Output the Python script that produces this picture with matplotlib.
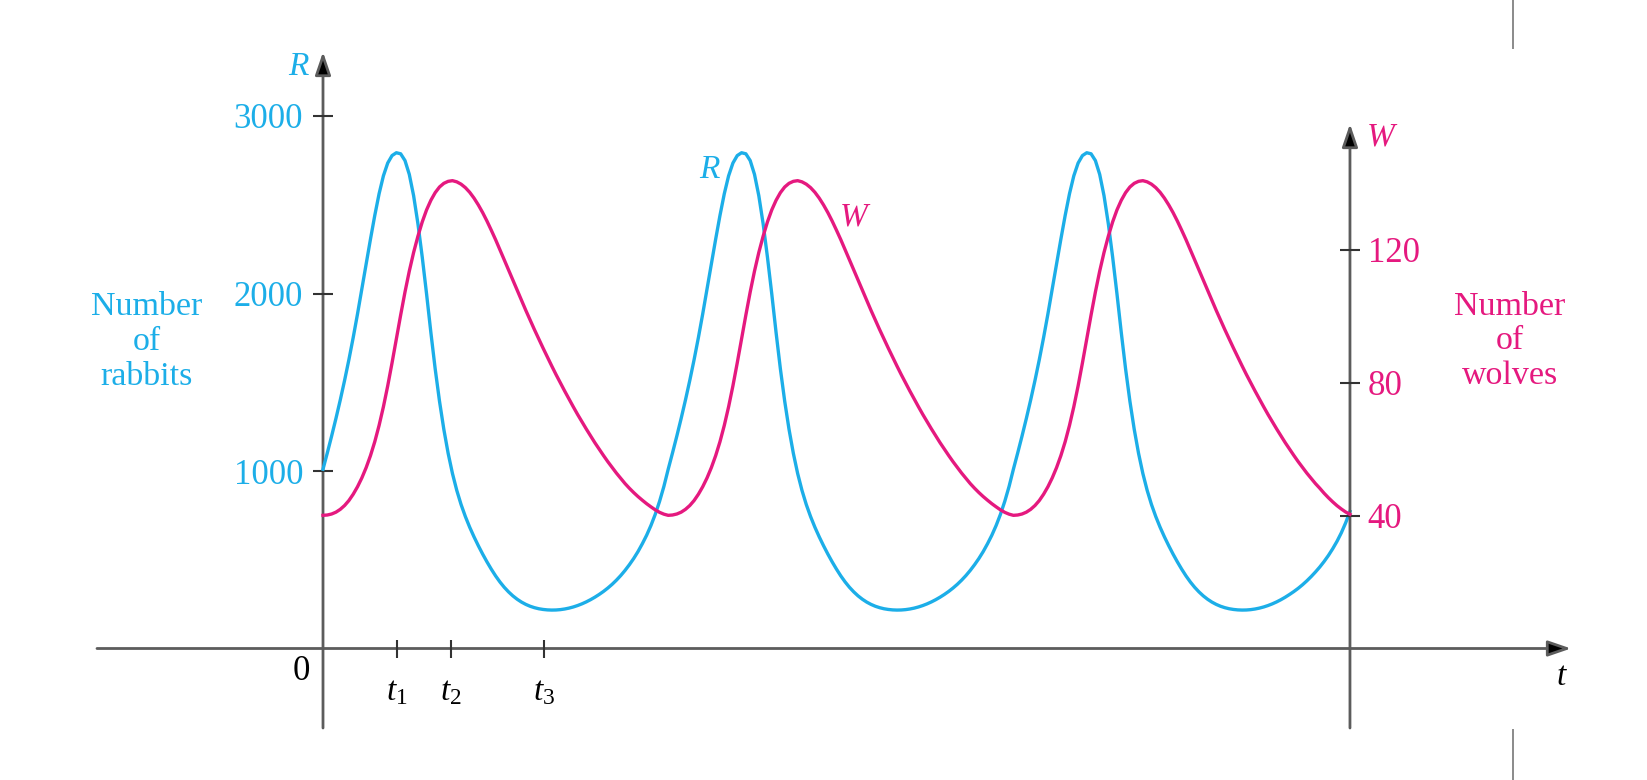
import numpy as np
import matplotlib
matplotlib.use("Agg")
import matplotlib.pyplot as plt
from matplotlib.lines import Line2D

# ---------------- data ----------------
t_step = 0.125  # sampling step of the time grid (time 0 .. 29.75)

rabbits_cycle1 = [1010, 1102, 1197, 1296, 1400, 1510, 1627, 1752,
                  1885, 2024, 2166, 2306, 2440, 2562, 2663, 2735,
                  2777, 2793, 2787, 2749, 2671, 2551, 2393, 2205,
                  1998, 1780, 1575, 1393, 1235, 1100, 986, 891,
                  811, 743, 683, 629, 579, 532, 488, 447,
                  409, 375, 345, 319, 296.5, 277.5, 261.5, 248.5,
                  238, 230, 224, 220, 217.5, 216.5, 217, 219,
                  222.5, 227.5, 234, 242, 251.5, 262.5, 275, 289,
                  304.5, 321.5, 340.5, 361.5, 385, 411, 440, 472,
                  507, 546, 590, 638, 693, 756, 829, 913]
rabbits_cycle2 = [1010, 1102, 1197, 1296, 1400, 1510, 1627, 1752,
                  1885, 2024, 2166, 2306, 2440, 2562, 2663, 2735,
                  2777, 2793, 2787, 2749, 2671, 2551, 2393, 2205,
                  1998, 1780, 1575, 1393, 1235, 1100, 986, 891,
                  811, 743, 683, 629, 579, 532, 488, 447,
                  409, 375, 345, 319, 296.5, 277.5, 261.5, 248.5,
                  238, 230, 224, 220, 217.5, 216.5, 217, 219,
                  222.5, 227.5, 234, 242, 251.5, 262.5, 275, 289,
                  304.5, 321.5, 340.5, 361.5, 385, 411, 440, 472,
                  507, 546, 590, 638, 693, 756, 829, 913]
rabbits_cycle3 = [1010, 1102, 1197, 1296, 1400, 1510, 1627, 1752,
                  1885, 2024, 2166, 2306, 2440, 2562, 2663, 2735,
                  2777, 2793, 2787, 2749, 2671, 2551, 2393, 2205,
                  1998, 1780, 1575, 1393, 1235, 1100, 986, 891,
                  811, 743, 683, 629, 579, 532, 488, 447,
                  409, 375, 345, 319, 296.5, 277.5, 261.5, 248.5,
                  238, 230, 224, 220, 217.5, 216.5, 217, 219,
                  222.5, 227.5, 234, 242, 251.5, 262.5, 275, 289,
                  304.5, 321, 339, 359, 381, 405, 431, 459,
                  490, 524, 562, 604, 652, 708, 772]

wolves_cycle1 = [40.05, 40.15, 40.45, 41.0, 41.85, 43.0, 44.5, 46.4,
                 48.65, 51.3, 54.4, 58.0, 62.2, 67.1, 72.7, 79.0,
                 85.9, 93.1, 100.3, 107.2, 113.5, 119.1, 124.0, 128.3,
                 131.9, 134.8, 137.1, 138.8, 139.9, 140.5, 140.7, 140.35,
                 139.65, 138.6, 137.2, 135.45, 133.4, 131.1, 128.55, 125.8,
                 122.95, 119.95, 116.9, 113.85, 110.8, 107.75, 104.7, 101.7,
                 98.8, 95.9, 93.1, 90.35, 87.65, 85.0, 82.4, 79.9,
                 77.45, 75.05, 72.7, 70.4, 68.2, 66.05, 63.95, 61.9,
                 59.95, 58.05, 56.2, 54.45, 52.75, 51.15, 49.6, 48.2,
                 46.9, 45.7, 44.6, 43.55, 42.6, 41.7, 40.95, 40.4]
wolves_cycle2 = [40.05, 40.15, 40.45, 41.0, 41.85, 43.0, 44.5, 46.4,
                 48.65, 51.3, 54.4, 58.0, 62.2, 67.1, 72.7, 79.0,
                 85.9, 93.1, 100.3, 107.2, 113.5, 119.1, 124.0, 128.3,
                 131.9, 134.8, 137.1, 138.8, 139.9, 140.5, 140.7, 140.35,
                 139.65, 138.6, 137.2, 135.45, 133.4, 131.1, 128.55, 125.8,
                 122.95, 119.95, 116.9, 113.85, 110.8, 107.75, 104.7, 101.7,
                 98.8, 95.9, 93.1, 90.35, 87.65, 85.0, 82.4, 79.9,
                 77.45, 75.05, 72.7, 70.4, 68.2, 66.05, 63.95, 61.9,
                 59.95, 58.05, 56.2, 54.45, 52.75, 51.15, 49.6, 48.2,
                 46.9, 45.7, 44.6, 43.55, 42.6, 41.7, 40.95, 40.4]
wolves_cycle3 = [40.05, 40.15, 40.45, 41.0, 41.85, 43.0, 44.5, 46.4,
                 48.65, 51.3, 54.4, 58.0, 62.2, 67.1, 72.7, 79.0,
                 85.9, 93.1, 100.3, 107.2, 113.5, 119.1, 124.0, 128.3,
                 131.9, 134.8, 137.1, 138.8, 139.9, 140.5, 140.7, 140.35,
                 139.65, 138.6, 137.2, 135.45, 133.4, 131.1, 128.55, 125.8,
                 122.95, 119.95, 116.9, 113.85, 110.8, 107.75, 104.7, 101.7,
                 98.8, 95.9, 93.1, 90.35, 87.65, 85.0, 82.4, 79.9,
                 77.45, 75.05, 72.7, 70.4, 68.2, 66.05, 63.95, 61.9,
                 59.95, 58.05, 56.2, 54.45, 52.75, 51.15, 49.6, 48.2,
                 46.7, 45.35, 44.1, 42.95, 41.95, 41.05, 40.35]

rabbits = rabbits_cycle1 + rabbits_cycle2 + rabbits_cycle3
wolves = wolves_cycle1 + wolves_cycle2 + wolves_cycle3
time = np.arange(len(rabbits)) * t_step

rabbit_ticks = [1000, 2000, 3000]
rabbit_tick_labels = ["1000", "2000", "3000"]
wolf_ticks = [40, 80, 120]
wolf_tick_labels = ["40", "80", "120"]
time_marks = [2.15, 3.7, 6.4]
time_mark_labels = [r"$t_1$", r"$t_2$", r"$t_3$"]
t_end = 29.75

# ---------------- style ----------------
BLUE = "#1CAEE8"
MAGENTA = "#E5197F"
AXIS_GRAY = "#5c5c5c"
TICK_COL = "#333333"

plt.rcParams["font.family"] = ["Liberation Serif", "DejaVu Serif"]
plt.rcParams["mathtext.fontset"] = "custom"
plt.rcParams["mathtext.rm"] = "Liberation Serif"
plt.rcParams["mathtext.it"] = "Liberation Serif:italic"

W_PX, H_PX = 1647, 780
fig = plt.figure(figsize=(W_PX / 100, H_PX / 100), dpi=100, facecolor="white")

# pixel layout
x0_px = 323.0          # t = 0
px_per_t = 34.52
y0_px = 648.5          # R = 0 and W = 0 (from top)
px_per_R = 0.1775
px_per_W = 3.325

ax = fig.add_axes([0, 0, 1, 1])
ax.set_xlim(-x0_px / px_per_t, (W_PX - x0_px) / px_per_t)
ax.set_ylim((y0_px - H_PX) / px_per_R, y0_px / px_per_R)
ax2 = ax.twinx()
ax2.set_ylim((y0_px - H_PX) / px_per_W, y0_px / px_per_W)
for a in (ax, ax2):
    a.patch.set_visible(False)
    for s in a.spines.values():
        s.set_visible(False)

def t_of(px):
    return (px - x0_px) / px_per_t

def R_of(py):
    return (y0_px - py) / px_per_R

def W_of(py):
    return (y0_px - py) / px_per_W

# axis lines with arrows
arrow_kw = dict(arrowstyle="-|>,head_length=0.7,head_width=0.24", mutation_scale=20,
                ec=AXIS_GRAY, fc="black", lw=2.0, shrinkA=0, shrinkB=0)
ax.annotate("", xy=(0, R_of(52)), xytext=(0, R_of(728)), arrowprops=arrow_kw, zorder=1)
ax.annotate("", xy=(t_of(1571), 0), xytext=(t_of(97), 0), arrowprops=arrow_kw, zorder=1)
ax2.annotate("", xy=(t_end, W_of(124)), xytext=(t_end, W_of(728)), arrowprops=arrow_kw, zorder=1)

# curves
ax.plot(time, rabbits, color=BLUE, lw=2.4, zorder=3, solid_joinstyle="round")
ax2.plot(time, wolves, color=MAGENTA, lw=2.4, zorder=3, solid_joinstyle="round")

# ticks
ax.spines["left"].set_position(("data", 0))
ax.spines["bottom"].set_position(("data", 0))
ax2.spines["right"].set_position(("data", t_end))

ax.set_yticks(rabbit_ticks, rabbit_tick_labels)
ax.tick_params(axis="y", which="both", direction="inout", length=13.7, width=1.5,
               color=TICK_COL, labelcolor=BLUE, labelsize=25, pad=7.5,
               left=True, right=False, labelleft=True, labelright=False)
ax.set_xticks(time_marks, time_mark_labels)
ax.tick_params(axis="x", which="both", direction="inout", length=13, width=1.5,
               color=TICK_COL, labelcolor="black", labelsize=24, pad=14,
               bottom=True, top=False)
ax2.set_yticks(wolf_ticks, wolf_tick_labels)
ax2.tick_params(axis="y", which="both", direction="inout", length=13.7, width=1.5,
                color=TICK_COL, labelcolor=MAGENTA, labelsize=25, pad=6,
                right=True, left=False, labelright=True, labelleft=False)

# origin label
ax.annotate("0", xy=(0, 0), xytext=(301 - x0_px, -(672 - y0_px)),
            textcoords="offset pixels", ha="center", va="center",
            fontsize=25, color="black")

# text labels (figure pixel positions, baseline aligned)
def ftext(xp, yp, s, **kw):
    fig.text(xp / W_PX, 1 - yp / H_PX, s, ha="center", va="baseline", **kw)

ftext(298, 75, "R", color=BLUE, style="italic", fontsize=24)
ftext(1381, 145, "W", color=MAGENTA, style="italic", fontsize=24)
ftext(709, 178, "R", color=BLUE, style="italic", fontsize=24)
ftext(854, 225, "W", color=MAGENTA, style="italic", fontsize=24)
ftext(1561, 685, "t", color="black", style="italic", fontsize=24)

for s, yb in zip(["Number", "of", "rabbits"], [315, 350, 385]):
    ftext(147, yb, s, color=BLUE, fontsize=24.5)
for s, yb in zip(["Number", "of", "wolves"], [315, 349, 384]):
    ftext(1510, yb, s, color=MAGENTA, fontsize=24.5)

# page edge marks
for ya, yb in [(0, 48), (730, 780)]:
    fig.add_artist(Line2D([1513 / W_PX, 1513 / W_PX], [1 - ya / H_PX, 1 - yb / H_PX],
                          color="#8a8a8a", lw=1.4))

fig.savefig("out.png", dpi=100, facecolor="white")
